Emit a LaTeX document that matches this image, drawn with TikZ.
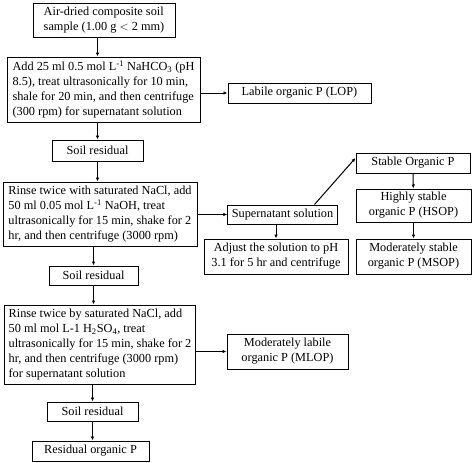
\documentclass[tikz,border=0pt]{standalone}
\usepackage{fontspec}
\setmainfont{Liberation Serif}
\usepackage{tikz}
\usetikzlibrary{arrows.meta,calc}

\tikzset{
  stage/.style={draw, line width=1pt, inner xsep=4pt, inner ysep=2pt, font=\fontsize{12.3}{15}\selectfont},
  leftstage/.style={stage, align=left},
  midstage/.style={stage, align=center},
  flow/.style={-{Latex[length=4pt,width=3.5pt]}, line width=1pt}
}

\begin{document}
\begin{tikzpicture}[x=1pt,y=-1pt]
  \useasboundingbox (0,0) rectangle (474,463);
  % main column
  \node[leftstage, minimum width=142pt, minimum height=34pt] (sample) at (104,20) {Air-dried composite soil\\sample (1.00 g $<$ 2 mm)};
  \node[leftstage, minimum width=193pt, minimum height=65pt] (bicarb) at (103.5,89.5) {Add 25 ml 0.5 mol L\textsuperscript{-1} NaHCO\textsubscript{3} (pH\\8.5), treat ultrasonically for 10 min,\\shale for 20 min, and then centrifuge\\(300 rpm) for supernatant solution};
  \node[midstage, minimum width=91pt, minimum height=21pt] (resA) at (97.5,150.5) {Soil residual};
  \node[leftstage, minimum width=194pt, minimum height=64pt] (hydrox) at (100,214) {Rinse twice with saturated NaCl, add\\50 ml 0.05 mol L\textsuperscript{-1} NaOH, treat\\ultrasonically for 15 min, shake for 2\\hr, and then centrifuge (3000 rpm)};
  \node[midstage, minimum width=89pt, minimum height=19pt] (resB) at (93.5,275.5) {Soil residual};
  \node[leftstage, minimum width=186pt, minimum height=79pt] (acid) at (100,344.5) {Rinse twice by saturated NaCl, add\\50 ml mol L-1 H\textsubscript{2}SO\textsubscript{4}, treat\\ultrasonically for 15 min, shake for 2\\hr, and then centrifuge (3000 rpm)\\for supernatant solution};
  \node[midstage, minimum width=91pt, minimum height=19pt] (resC) at (92.5,411.5) {Soil residual};
  \node[midstage, minimum width=117pt, minimum height=20pt] (resid) at (90.5,451) {Residual organic P};
  % fractions
  \node[midstage, minimum width=143pt, minimum height=20pt] (lop) at (299.5,93) {Labile organic P (LOP)};
  \node[midstage, minimum width=109pt, minimum height=19pt] (super) at (282.5,214.5) {Supernatant solution};
  \node[midstage, minimum width=144pt, minimum height=35pt] (adjust) at (276,256.5) {Adjust the solution to pH\\3.1 for 5 hr and centrifuge};
  \node[midstage, minimum width=114pt, minimum height=20pt] (stable) at (413,163) {Stable Organic P};
  \node[midstage, minimum width=115pt, minimum height=33pt] (hsop) at (413.5,205.5) {Highly stable\\organic P (HSOP)};
  \node[midstage, minimum width=115pt, minimum height=35pt] (msop) at (413.5,256.5) {Moderately stable\\organic P (MSOP)};
  \node[midstage, minimum width=121pt, minimum height=35pt] (mlop) at (287.5,351.5) {Moderately labile\\organic P (MLOP)};

  \draw[flow] (sample.south -| resA) -- (bicarb.north -| resA);
  \draw[flow] (bicarb.south -| resA) -- (resA);
  \draw[flow] (resA) -- (hydrox.north -| resA);
  \draw[flow] (hydrox.south -| resB) -- (resB);
  \draw[flow] (resB) -- (acid.north -| resB);
  \draw[flow] (acid.south -| resC) -- (resC);
  \draw[flow] (resC) -- (resid.north -| resC);
  \draw[flow] (bicarb.east |- lop) -- (lop);
  \draw[flow] (hydrox.east |- super) -- (super);
  \draw[flow] (acid.east |- mlop) -- (mlop);
  \draw[flow] (super.south -| adjust) -- (adjust);
  \draw[flow] ($(super.north)+(32,0)$) -- (stable.175);
  \draw[flow] (stable) -- (hsop);
  \draw[flow] (hsop) -- (msop);
\end{tikzpicture}
\end{document}
